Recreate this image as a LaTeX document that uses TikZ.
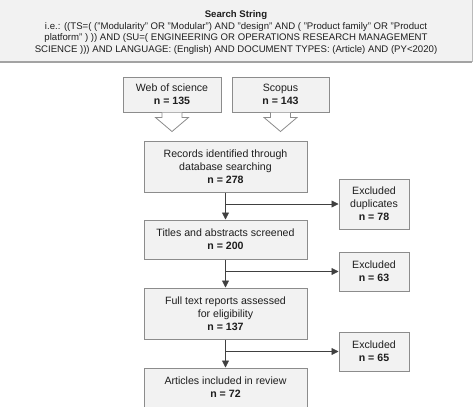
\documentclass[tikz,border=0pt]{standalone}
\usepackage{fontspec}
\setmainfont{Liberation Sans}
\usetikzlibrary{arrows.meta}
\definecolor{boxfill}{HTML}{F2F2F2}
\definecolor{boxline}{HTML}{8C8C8C}
\definecolor{txt}{HTML}{1E1E1E}
\begin{document}
\begin{tikzpicture}[x=1pt,y=-1pt,
  fbox/.style={draw=boxline,fill=boxfill,line width=1pt,align=center,inner sep=0pt,
    font=\fontsize{10.6}{12.8}\selectfont,text=txt},
  conn/.style={draw=black!75,line width=0.8pt,-{Triangle[length=7pt,width=7pt]}},
  blk/.style={draw=boxline,fill=white,line width=0.8pt}]
\useasboundingbox (0,0) rectangle (474,407);
% banner
\fill[boxfill] (0,0) rectangle (472,62);
\draw[boxline!80,line width=1.6pt] (0,62) -- (472,62);
\draw[boxline!60,line width=0.8pt] (472,0) -- (472,62);
\node[align=center,font=\fontsize{9.6}{11.8}\selectfont,text=txt] (ss) at (236,32.5)
 {\textbf{Search String}\\
 i.e.: ((TS=( ("Modularity" OR "Modular") AND "design" AND ( "Product family" OR "Product\\
 platform" ) )) AND (SU=( ENGINEERING OR OPERATIONS RESEARCH MANAGEMENT\\
 SCIENCE ))) AND LANGUAGE: (English) AND DOCUMENT TYPES: (Article) AND (PY<2020)};
% boxes
\node[fbox,minimum width=98pt,minimum height=35pt] (wos) at (172,94.5) {Web of science\\\textbf{n = 135}};
\node[fbox,minimum width=97pt,minimum height=35pt] (sco) at (280.5,94.5) {Scopus\\\textbf{n = 143}};
\node[fbox,minimum width=163pt,minimum height=51pt] (rec) at (225.5,166.5) {Records identified through\\database searching\\\textbf{n = 278}};
\node[fbox,minimum width=70pt,minimum height=50pt] (dup) at (374,204) {Excluded\\duplicates\\\textbf{n = 78}};
\node[fbox,minimum width=163pt,minimum height=39pt] (tit) at (225.5,239.5) {Titles and abstracts screened\\\textbf{n = 200}};
\node[fbox,minimum width=70pt,minimum height=39pt] (ex1) at (374,271.5) {Excluded\\\textbf{n = 63}};
\node[fbox,minimum width=163pt,minimum height=51pt] (ful) at (225.5,313.5) {Full text reports assessed\\for eligibility\\\textbf{n = 137}};
\node[fbox,minimum width=70pt,minimum height=39pt] (ex2) at (374,351.5) {Excluded\\\textbf{n = 65}};
\node[fbox,minimum width=163pt,minimum height=39pt] (art) at (225.5,387.5) {Articles included in review\\\textbf{n = 72}};
% block arrows
\foreach \s in {wos,sco}{
  \draw[blk] (\s.south) ++(-10,0) -- ++(0,5) -- ++(-6.5,0) -- ++(16.5,14) -- ++(16.5,-14) -- ++(-6.5,0) -- ++(0,-5);
}
% connectors
\draw[conn] (rec) -- (tit);
\draw[conn] (rec.south |- dup.west) -- (dup.west);
\draw[conn] (tit) -- (ful);
\draw[conn] (tit.south |- ex1.west) -- (ex1.west);
\draw[conn] (ful) -- (art);
\draw[conn] (ful.south |- ex2.west) -- (ex2.west);
\end{tikzpicture}
\end{document}
